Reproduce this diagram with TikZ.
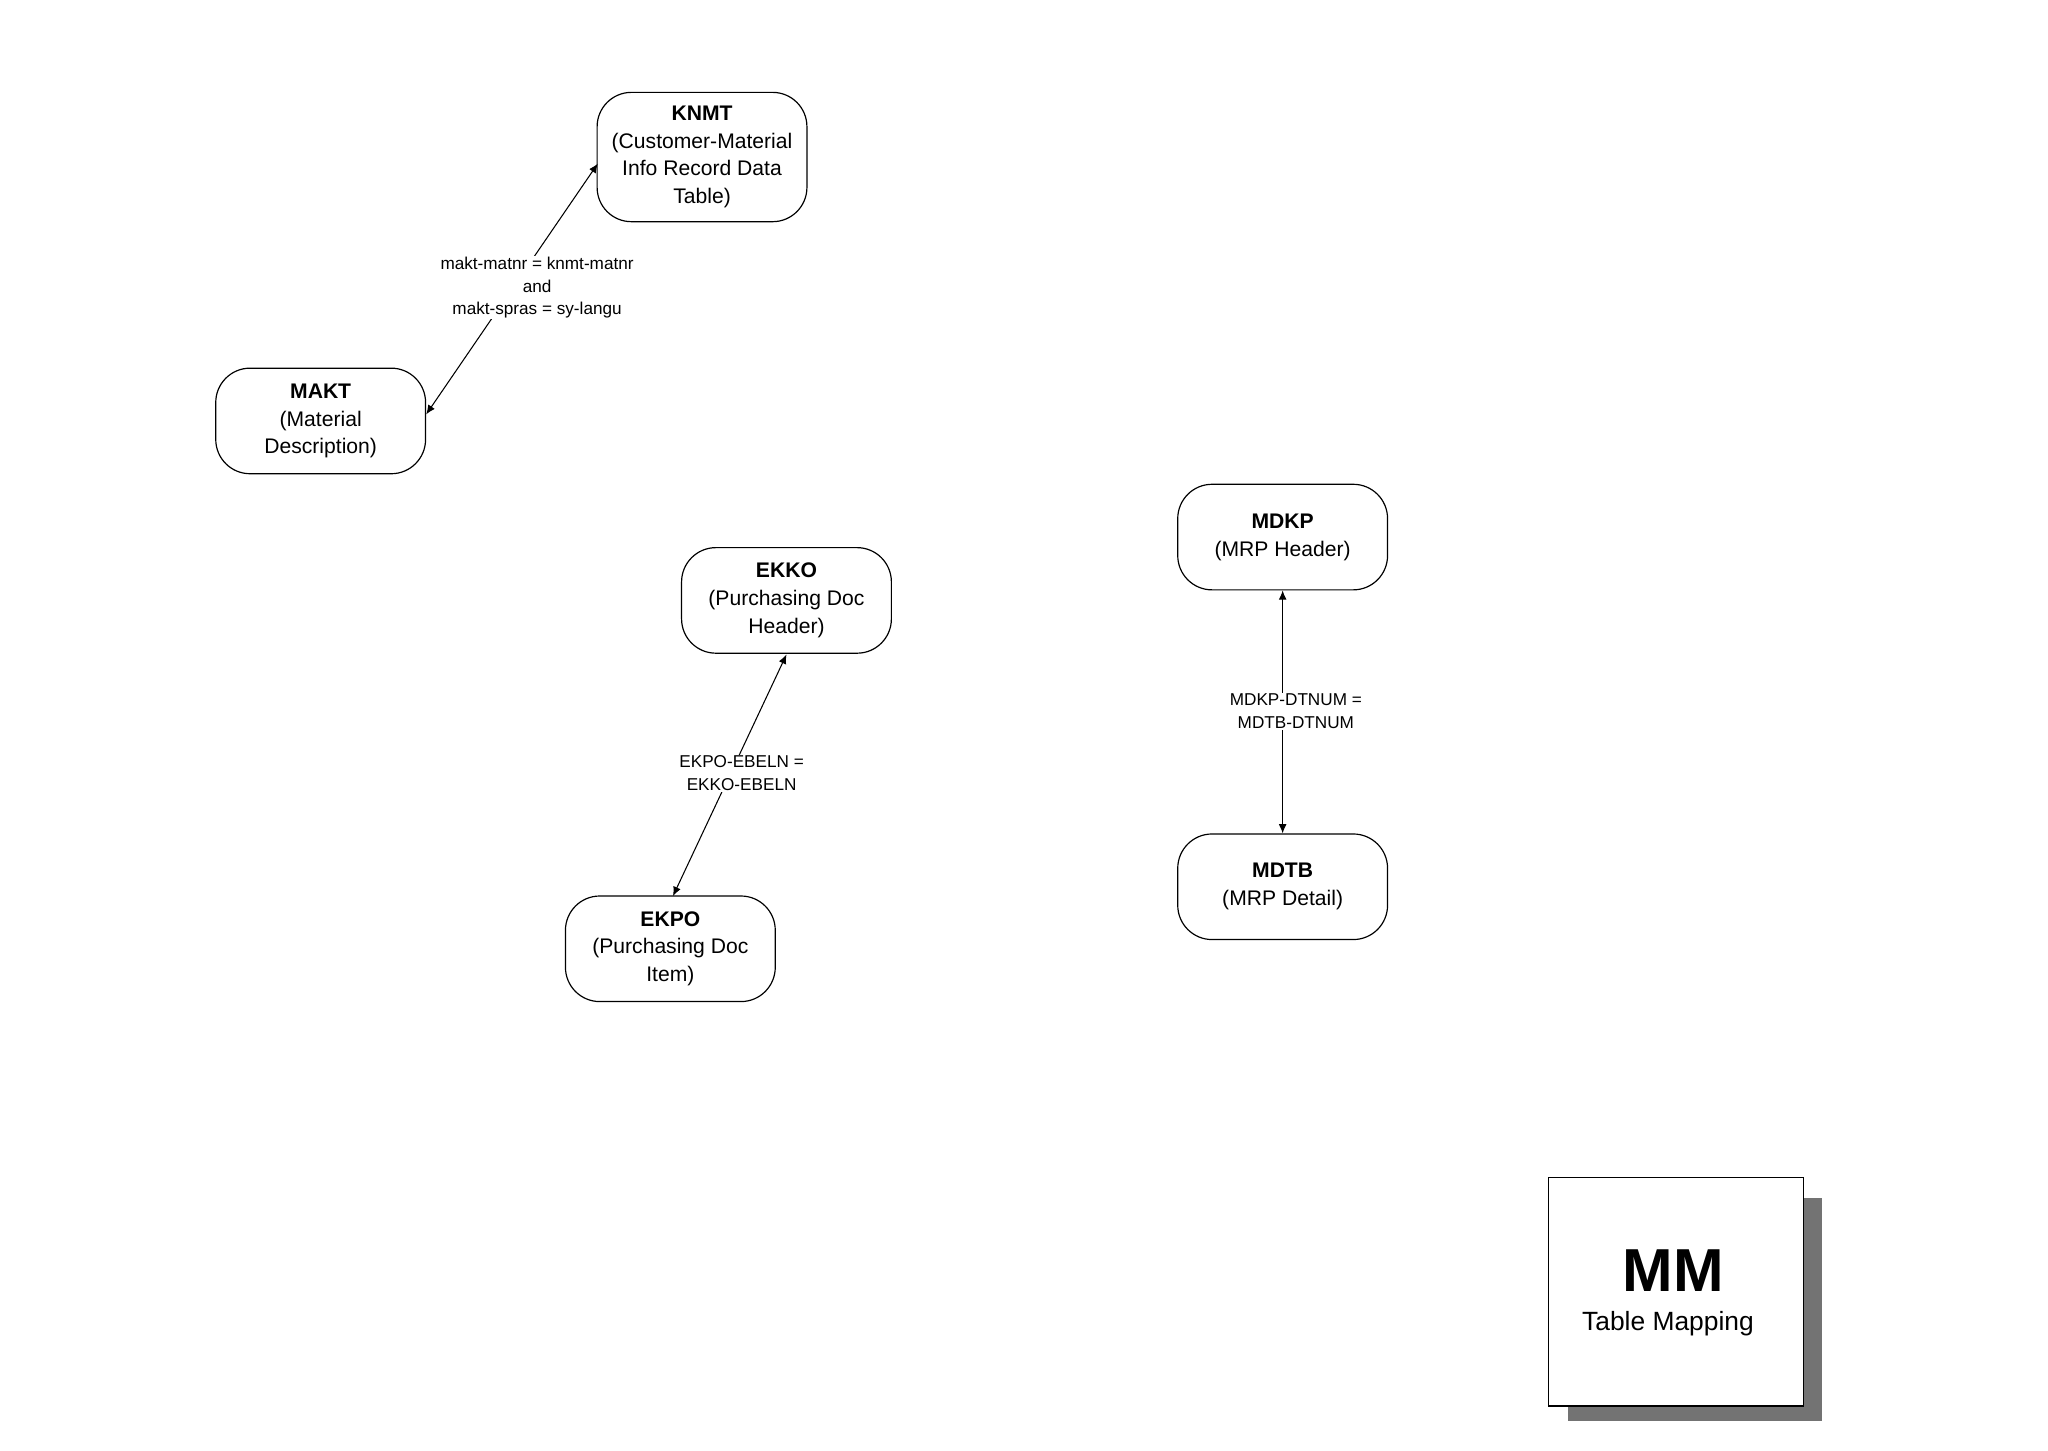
\documentclass[tikz,border=0pt]{standalone}
\usepackage{fontspec}
\setmainfont{Liberation Sans}
\usetikzlibrary{arrows.meta}
\begin{document}
\begin{tikzpicture}[x=1pt,y=-1pt,
  tbl/.style={draw,line width=0.9pt,rounded corners=26pt,minimum width=159pt,minimum height=80pt,align=center,font=\fontsize{16}{21}\selectfont,inner sep=0pt},
  lbl/.style={fill=white,align=center,font=\fontsize{13}{17}\selectfont,inner sep=1pt},
  rel/.style={line width=0.8pt,{Latex[length=7pt,width=6pt]}-{Latex[length=7pt,width=6pt]}}]
\useasboundingbox (0,0) rectangle (1552,1099);
\node[tbl,minimum height=98pt] (knmt) at (532,119) {\textbf{KNMT}\\(Customer-Material\\Info Record Data\\Table)};
\node[tbl] (makt) at (243,319) {\textbf{MAKT}\\(Material\\Description)};
\node[tbl] (ekko) at (596,455) {\textbf{EKKO}\\(Purchasing Doc\\Header)};
\node[tbl] (ekpo) at (508,719) {\textbf{EKPO}\\(Purchasing Doc\\Item)};
\node[tbl] (mdkp) at (972,407) {\textbf{MDKP}\\(MRP Header)};
\node[tbl] (mdtb) at (972,672) {\textbf{MDTB}\\(MRP Detail)};
\coordinate (a1) at (323,314); \coordinate (a2) at (453,124);
\draw[rel] (a1) -- (a2);
\node[lbl] (l1) at (407,218) {makt-matnr = knmt-matnr\\and\\makt-spras = sy-langu};
\coordinate (b1) at (596,496); \coordinate (b2) at (510,679);
\draw[rel] (b2) -- (b1);
\node[lbl] (l2) at (562,586) {EKPO-EBELN =\\EKKO-EBELN};
\draw[rel] (mdkp.south) -- (mdtb.north);
\node[lbl] (l3) at (982,539) {MDKP-DTNUM =\\MDTB-DTNUM};
\fill[gray!110!black,fill=black!55] (1188,908) rectangle (1381,1077);
\node[draw,fill=white,line width=0.9pt,minimum width=193pt,minimum height=173pt,anchor=north west] (mm) at (1173,892) {};
\node[font=\bfseries\fontsize{46}{50}\selectfont] (mmt) at (1268,963) {MM};
\node[font=\fontsize{20}{24}\selectfont] (mms) at (1264,1003) {Table Mapping};
\end{tikzpicture}
\end{document}
